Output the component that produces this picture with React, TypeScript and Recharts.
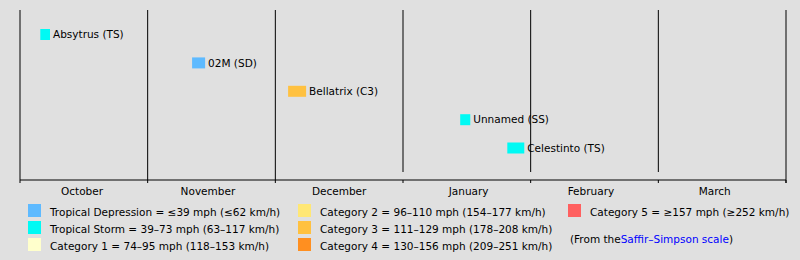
import React from 'react';
import { BarChart, Bar, XAxis, YAxis, Cell, LabelList, ReferenceLine } from 'recharts';

const months = ['October', 'November', 'December', 'January', 'February', 'March'];
// where each month name sits on the axis (months from 1 October)
const monthLabelAt = [0.486, 1.472, 2.5, 3.514, 4.472, 5.442];
const monthLines = [0, 1, 2, 3, 4, 5, 6];

// storms, positions in months counted from 1 October
const stormNames = ['Absytrus (TS)', '02M (SD)', 'Bellatrix (C3)', 'Unnamed (SS)', 'Celestinto (TS)'];
const stormClass = ['TS', 'TD', 'C3', 'TS', 'TS'];
const stormStart = [0.159, 1.348, 2.1, 3.448, 3.817];
const stormEnd = [0.235, 1.45, 2.241, 3.527, 3.95];

// Saffir–Simpson legend
const scaleKeys = ['TD', 'TS', 'C1', 'C2', 'C3', 'C4', 'C5'];
const scaleColors = ['#5ebaff', '#00faf4', '#ffffcc', '#ffe775', '#ffc140', '#ff8f20', '#ff6060'];
const scaleLabels = [
  'Tropical Depression = ≤39 mph (≤62 km/h)',
  'Tropical Storm = 39–73 mph (63–117 km/h)',
  'Category 1 = 74–95 mph (118–153 km/h)',
  'Category 2 = 96–110 mph (154–177 km/h)',
  'Category 3 = 111–129 mph (178–208 km/h)',
  'Category 4 = 130–156 mph (209–251 km/h)',
  'Category 5 = ≥157 mph (≥252 km/h)',
];

const data = stormNames.map((name, i) => ({
  name,
  range: [stormStart[i], stormEnd[i]],
  fill: scaleColors[scaleKeys.indexOf(stormClass[i])],
}));

const FONT = 'DejaVu Sans';
const FS = 10.5;

// month lines 3..5 stop short of the axis, the last one runs through it
const lineBottomShift: Record<number, number> = { 3: -8, 4: -8, 5: -8, 6: 3 };

const axisTicks = [...monthLines, ...monthLabelAt].sort((a, b) => a - b);

const MonthTick = (props: any) => {
  const { x, y, payload } = props;
  const v = payload.value;
  if (Number.isInteger(v)) {
    return <line x1={x} x2={x} y1={y} y2={y + 3} stroke="#000" />;
  }
  return (
    <text x={x} y={y + 15} textAnchor="middle" fontFamily={FONT} fontSize={FS} fill="#000">
      {months[Math.floor(v)]}
    </text>
  );
};

const Legend = () => {
  const colX = [28, 298, 568];
  return (
    <svg width={800} height={260} style={{ position: 'absolute', left: 0, top: 0 }}>
      {scaleLabels.map((label, i) => {
        const col = Math.floor(i / 3);
        const row = i % 3;
        const sx = colX[col];
        const sy = 204 + row * 17;
        return (
          <g key={label}>
            <rect x={sx} y={sy} width={13} height={13} fill={scaleColors[i]} />
            <text x={sx + 22} y={sy + 12} fontFamily={FONT} fontSize={FS} fill="#000">
              {label}
            </text>
          </g>
        );
      })}
      <text x={570} y={243} fontFamily={FONT} fontSize={FS} fill="#000">
        (From the<tspan fill="#0000ff">Saffir–Simpson scale</tspan>)
      </text>
    </svg>
  );
};

export default function App() {
  return (
    <div style={{ position: 'absolute', left: 0, top: 0, width: 800, height: 260, background: '#e0e0e0' }}>
      <BarChart
        width={800}
        height={260}
        data={data}
        layout="vertical"
        margin={{ top: 10, right: 14, bottom: 0, left: 20 }}
      >
        <XAxis
          type="number"
          domain={[0, 6]}
          ticks={axisTicks}
          interval={0}
          height={80}
          tickSize={0}
          tickMargin={0}
          tickLine={false}
          tick={<MonthTick />}
          axisLine={{ stroke: '#000' }}
        />
        <YAxis type="category" dataKey="name" hide padding={{ top: 10, bottom: 18 }} />
        {monthLines.map((m) => (
          <ReferenceLine
            key={m}
            x={m}
            shape={(p: any) => {
              const top = Math.min(p.y1, p.y2);
              const bottom = Math.max(p.y1, p.y2) + (lineBottomShift[m] || 0);
              return <line x1={p.x1} x2={p.x2} y1={top} y2={bottom} stroke="#000" strokeWidth={1} />;
            }}
          />
        ))}
        <Bar dataKey="range" barSize={11} isAnimationActive={false}>
          {data.map((d) => (
            <Cell key={d.name} fill={d.fill} />
          ))}
          <LabelList
            dataKey="name"
            position="right"
            offset={3}
            style={{ fontFamily: FONT, fontSize: FS, fill: '#000' }}
          />
        </Bar>
      </BarChart>
      <Legend />
    </div>
  );
}
